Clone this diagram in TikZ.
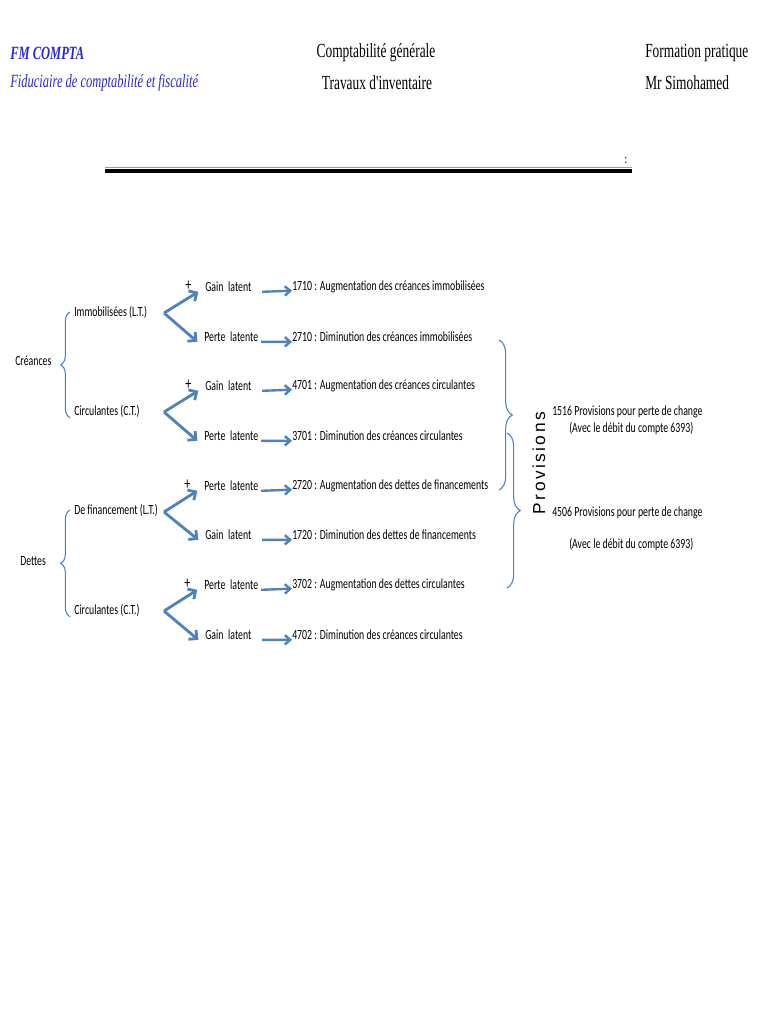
\documentclass[tikz,border=0pt]{standalone}
\usepackage{fontspec}
\setmainfont{Carlito}[FakeStretch=0.7]
\newfontfamily\headfont{Liberation Serif}[FakeStretch=0.67]
\newfontfamily\provfont{Liberation Sans}[LetterSpace=14]
\usepackage{xcolor}
\usetikzlibrary{arrows.meta, positioning, calc, decorations.pathreplacing}
\definecolor{FMBlue}{RGB}{40,40,215}
\definecolor{OfficeBlue}{HTML}{4F81BD}
\definecolor{RuleGray}{HTML}{9A9A9A}
\tikzset{
    % all texts in the scheme
    every node/.style={font=\fontsize{10.5}{12}\selectfont, inner sep=0pt},
    % header lines
    headtext/.style={
        anchor=west,
        font=\headfont\fontsize{15}{17}\selectfont
    },
    % firm name in the header
    firmtext/.style={
        anchor=west,
        text=FMBlue,
        font=\headfont\itshape\fontsize{14}{16}\selectfont
    },
    % main families (Créances, Dettes)
    family/.style={anchor=west},
    % branches (L.T. / C.T.)
    branch/.style={anchor=west},
    % gain / perte labels
    latent/.style={
        anchor=west,
        text width=40.5pt,
        align=left
    },
    % + and - signs
    sign/.style={font=\fontsize{13}{14}\selectfont},
    % account texts
    account/.style={anchor=west},
    % provisions texts
    note/.style={anchor=west},
    % rotated title
    provtext/.style={
        rotate=90,
        font=\provfont\fontsize{13}{14}\selectfont
    },
    % arrows of the scheme
    fork/.style={
        -{Straight Barb[length=4.5pt, width=9pt]},
        line width=2.1pt,
        color=OfficeBlue
    },
    flow/.style={
        -{Straight Barb[length=4pt, width=7pt]},
        line width=1.8pt,
        color=OfficeBlue
    },
    % curly braces
    bracel/.style={
        decorate,
        decoration={brace, amplitude=#1},
        draw=OfficeBlue,
        line width=0.8pt
    }
}

\begin{document}
\begin{tikzpicture}[x=0.75pt, y=-0.75pt]
    \useasboundingbox[fill=white] (0,0) rectangle (768,1024);

    % Header
    \node (firm) [firmtext, font=\headfont\bfseries\itshape\fontsize{14}{16}\selectfont] at (10,53) {FM COMPTA};
    \node (fidu) [firmtext] at (10,83) {Fiduciaire de comptabilité et fiscalité};
    \node (cg) [headtext, anchor=center] at (376,53) {Comptabilité générale};
    \node (ti) [headtext, anchor=center] at (377,83) {Travaux d'inventaire};
    \node (fp) [headtext] at (645,53) {Formation pratique};
    \node (mr) [headtext] at (645,83) {Mr Simohamed};

    \draw [RuleGray, line width=0.6pt] (105,167) -- (632,167);
    \draw [line width=3.6pt] (105,171) -- (632,171);
    \node (colon) at (626,160) {:};

    % Créances
    \node (cre) [family] at (15,361) {Créances};
    \node (b1) [branch] at (74,312) {Immobilisées (L.T.)};
    \node (b2) [branch] at (74,411) {Circulantes (C.T.)};
    % Dettes
    \node (det) [family] at (20,561) {Dettes};
    \node (b3) [branch] at (74,510) {De financement (L.T.)};
    \node (b4) [branch] at (74,610) {Circulantes (C.T.)};

    % Gains and pertes
    \node (r1) [latent] at (205,287) {\mbox{Gain latent}};
    \node (r2) [latent] at (204,337) {\mbox{Perte latente}};
    \node (r3) [latent] at (205,386) {\mbox{Gain latent}};
    \node (r4) [latent] at (204,436) {\mbox{Perte latente}};
    \node (r5) [latent] at (204,486) {\mbox{Perte latente}};
    \node (r6) [latent] at (205,535) {\mbox{Gain latent}};
    \node (r7) [latent] at (204,585) {\mbox{Perte latente}};
    \node (r8) [latent] at (205,635) {\mbox{Gain latent}};

    \foreach \i in {1, 3, 5, 7} {
        \node (s\i) [sign, left=10pt of r\i, yshift=1pt] {+};
    }
    \foreach \i in {2, 4, 6, 8} {
        \node (s\i) [sign, left=10pt of r\i] {-};
    }

    % Accounts
    \node (c1) [account] at (292,287) {1710 : Augmentation des créances immobilisées};
    \node (c2) [account] at (292,337) {2710 : Diminution des créances immobilisées};
    \node (c3) [account] at (292,386) {4701 : Augmentation des créances circulantes};
    \node (c4) [account] at (292,436) {3701 : Diminution des créances circulantes};
    \node (c5) [account] at (292,486) {2720 : Augmentation des dettes de financements};
    \node (c6) [account] at (292,535) {1720 : Diminution des dettes de financements};
    \node (c7) [account] at (292,585) {3702 : Augmentation des dettes circulantes};
    \node (c8) [account] at (292,635) {4702 : Diminution des créances circulantes};

    \foreach \i in {1,...,8} {
        \draw [flow] ([xshift=2pt]r\i.base east) -- (c\i.base west);
    }

    % Forks
    \coordinate (v1) at (164,313);
    \coordinate (v2) at (164,412);
    \coordinate (v3) at (164,512);
    \coordinate (v4) at (164,611);
    \foreach \v/\a/\b in {1/1/2, 2/3/4, 3/5/6, 4/7/8} {
        \draw [fork] (v\v) -- ([xshift=-5pt]r\a.base west);
        \draw [fork] (v\v) -- ([xshift=-5pt]r\b.base west);
    }

    % Braces on the left
    \draw [bracel=7pt] ([xshift=-3pt, yshift=-5pt]b2.west) -- ([xshift=-3pt]b1.west);
    \draw [bracel=7pt] ([xshift=-3pt, yshift=-5pt]b4.west) -- ([xshift=-3pt]b3.west);

    % Provisions
    \coordinate (p1top) at (499,340);
    \coordinate (p1bot) at (499,490);
    \coordinate (p2top) at (507,433);
    \coordinate (p2bot) at (507,588);
    \draw [bracel=10pt] (p1top) -- (p1bot);
    \draw [bracel=10pt] (p2top) -- (p2bot);

    \node (prov) [provtext] at (539,463) {Provision\kern2pt s};
    \node (n1) [note] at (552,412) {1516 Provisions pour perte de change};
    \node (n1b) [note] at (569,429) {(Avec le débit du compte 6393)};
    \node (n2) [note] at (552,513) {4506 Provisions pour perte de change};
    \node (n2b) [note] at (569,545) {(Avec le débit du compte 6393)};
\end{tikzpicture}
\end{document}
